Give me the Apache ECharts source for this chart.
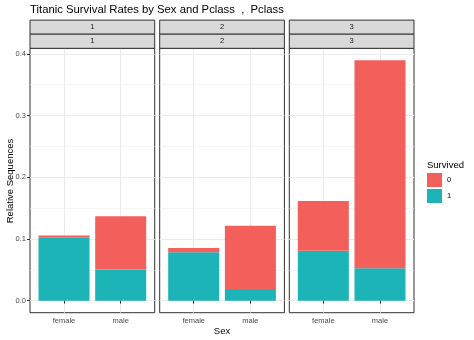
<!DOCTYPE html>
<html><head><meta charset="utf-8">
<script src="https://cdn.jsdelivr.net/npm/echarts@6/dist/echarts.min.js"></script>
<style>html,body{margin:0;padding:0;background:#fff}#c{width:474px;height:340px}</style>
</head><body><div id="c"></div>
<script>
// ---- data ----
const pclasses = ['1', '2', '3'];
const sexes = ['female', 'male'];
const survivedLevels = ['0', '1'];
// share of all passengers, per Pclass: [female, male]
const diedShare = [[0.0034, 0.0864], [0.0067, 0.1021], [0.0808, 0.3367]];
const survivedShare = [[0.1021, 0.0505], [0.0786, 0.0191], [0.0808, 0.0527]];
const yTicks = [0, 0.1, 0.2, 0.3, 0.4];
const yMinor = [0.05, 0.15, 0.25, 0.35];
const titleText = 'Titanic Survival Rates by Sex and Pclass  ,  Pclass';

// ---- layout ----
const FONT = '"Liberation Sans", Arial, sans-serif';
const panelLeft = [30, 159.7, 289.3];
const panelW = 124.7;
const panelTop = 48.3;
const panelH = 264.4;
const stripH = 14.1;
const colors = {'0': '#F35F5B', '1': '#1CB4B7'};

let maxTotal = 0;
pclasses.forEach((p, i) => sexes.forEach((s, j) => {
  maxTotal = Math.max(maxTotal, diedShare[i][j] + survivedShare[i][j]);
}));
const pad = 0.05 * maxTotal;
const xMin = 0.4, xMax = sexes.length + 0.6;
const unit = panelW / (xMax - xMin);

const grids = [], xAxes = [], yAxes = [], series = [], graphics = [];
pclasses.forEach((p, i) => {
  // background panel grid (full panel, expanded discrete scale as numbers)
  const gb = grids.length;
  grids.push({left: panelLeft[i], top: panelTop, width: panelW, height: panelH,
    show: true, borderColor: '#333333', borderWidth: 1, backgroundColor: '#fff'});
  const xv = sexes.map((s, j) => j + 1);
  xAxes.push({type: 'value', gridIndex: gb, min: xMin, max: xMax,
    axisLine: {show: false},
    axisTick: {show: true, customValues: xv, length: 3, lineStyle: {color: '#333333'}},
    axisLabel: {show: true, customValues: xv, formatter: v => sexes[Math.round(v) - 1] || '',
      fontFamily: FONT, fontSize: 7.5, color: '#4d4d4d', margin: 4},
    splitLine: {show: true, lineStyle: {color: '#ebebeb', width: 1}}
  });
  yAxes.push({type: 'value', gridIndex: gb, min: -pad, max: maxTotal + pad,
    axisLine: {show: false},
    axisTick: {show: i === 0, customValues: yTicks, length: 3, lineStyle: {color: '#333333'}},
    axisLabel: {show: i === 0, customValues: yTicks, formatter: v => v.toFixed(1),
      fontFamily: FONT, fontSize: 7.5, color: '#4d4d4d', margin: 4},
    splitLine: {show: true, lineStyle: {color: '#ebebeb', width: 1}}
  });
  series.push({name: 'minor' + i, type: 'line', xAxisIndex: gb, yAxisIndex: gb, data: [],
    silent: true, symbol: 'none', z: 0,
    markLine: {silent: true, z: 0, symbol: ['none', 'none'], label: {show: false},
      lineStyle: {color: '#f0f0f0', width: 0.6, type: 'solid'},
      data: yMinor.map(v => ({yAxis: v}))}
  });

  // bar grid: category band area inside the expanded panel
  const gi = grids.length;
  grids.push({left: panelLeft[i] + (1 - 0.5 - xMin) * unit, top: panelTop,
    width: sexes.length * unit, height: panelH, show: false});
  xAxes.push({type: 'category', gridIndex: gi, data: sexes, boundaryGap: true,
    axisLine: {show: false}, axisTick: {show: false}, axisLabel: {show: false}, splitLine: {show: false}});
  yAxes.push({type: 'value', gridIndex: gi, min: -pad, max: maxTotal + pad, show: false,
    splitLine: {show: false}});
  // survived = 1 at bottom, 0 on top
  series.push({name: '1', type: 'bar', xAxisIndex: gi, yAxisIndex: gi, stack: 's' + i,
    barWidth: '90%', itemStyle: {color: colors['1']}, z: 6,
    data: survivedShare[i]});
  series.push({name: '0', type: 'bar', xAxisIndex: gi, yAxisIndex: gi, stack: 's' + i,
    barWidth: '90%', itemStyle: {color: colors['0']}, z: 6,
    data: diedShare[i]});

  // two strip rows
  for (let r = 0; r < 2; r++) {
    const y = panelTop - stripH * (2 - r);
    graphics.push({type: 'rect', shape: {x: panelLeft[i], y: y, width: panelW, height: stripH},
      style: {fill: '#d9d9d9', stroke: '#333333', lineWidth: 1}, z: 10});
    graphics.push({type: 'text', x: panelLeft[i] + panelW / 2, y: y + stripH / 2,
      style: {text: p, fontFamily: FONT, fontSize: 7.5, fill: '#1a1a1a', align: 'center', verticalAlign: 'middle'}, z: 11});
  }
});

graphics.push({type: 'text', x: 10, y: 181, rotation: Math.PI / 2,
  style: {text: 'Relative Sequences', fontFamily: FONT, fontSize: 9.5, fill: '#000', align: 'center', verticalAlign: 'middle'}});
graphics.push({type: 'text', x: 222, y: 331,
  style: {text: 'Sex', fontFamily: FONT, fontSize: 9.5, fill: '#000', align: 'center', verticalAlign: 'middle'}});
graphics.push({type: 'text', x: 427, y: 165,
  style: {text: 'Survived', fontFamily: FONT, fontSize: 9.5, fill: '#000', align: 'left', verticalAlign: 'middle'}});

const chart = echarts.init(document.getElementById('c'), null, {renderer: 'canvas'});
chart.setOption({
  animation: false,
  backgroundColor: '#fff',
  title: {text: titleText, left: 30, top: 4, padding: 0,
    textStyle: {fontFamily: FONT, fontSize: 11.3, fontWeight: 'normal', color: '#000'}},
  legend: {data: survivedLevels, orient: 'vertical', left: 427, top: 173, padding: 0,
    itemWidth: 15, itemHeight: 14, itemGap: 2, icon: 'rect',
    textStyle: {fontFamily: FONT, fontSize: 7.5, color: '#000'},
    selectedMode: false},
  grid: grids, xAxis: xAxes, yAxis: yAxes, series: series, graphic: graphics
});
</script></body></html>
